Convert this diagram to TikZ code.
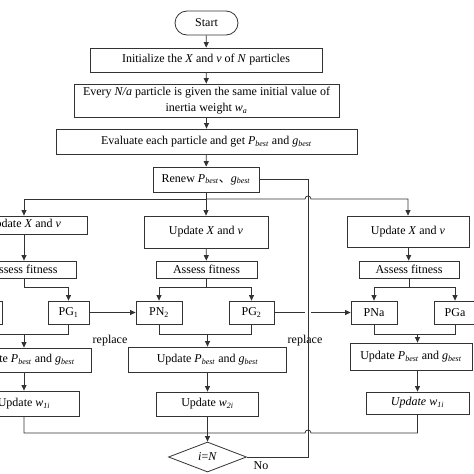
\documentclass[tikz,border=0pt]{standalone}
\usepackage{fontspec}
\setmainfont{Liberation Serif}
\newfontfamily\cjk{Noto Sans CJK SC}
\usetikzlibrary{shapes.geometric,arrows.meta}
\begin{document}
\begin{tikzpicture}[x=1pt,y=-1pt,
  every node/.style={font=\fontsize{12}{14}\selectfont},
  ln/.style={draw=black!80, line width=0.8pt},
  box/.style={ln, rectangle, inner sep=0pt},
  term/.style={ln, rectangle, rounded corners=12pt, inner sep=0pt},
  dec/.style={ln, diamond, inner sep=0pt, aspect=2.6},
  arr/.style={ln, -{Triangle[length=5.5pt,width=5pt]}},
  lbl/.style={inner sep=0pt}
]
\useasboundingbox (0,0) rectangle (474,474);
\clip (0,0) rectangle (474,474);

% top chain
\node[term, minimum width=63pt, minimum height=24pt] (start) at (206.5,23) {Start};
\node[box, minimum width=232pt, minimum height=24pt] (init) at (206,60) {Initialize the \textit{X} and \textit{v} of \textit{N} particles};
\node[box, minimum width=265pt, minimum height=33pt, align=center, font=\fontsize{12}{16}\selectfont] (every) at (206.5,100.5) {Every \textit{N/a} particle is given the same initial value of\\inertia weight \textit{w}\textsubscript{\textit{a}}};
\node[box, minimum width=301pt, minimum height=25pt] (eval) at (206.5,141.5) {Evaluate each particle and get \textit{P}\textsubscript{\textit{best}} and \textit{g}\textsubscript{\textit{best}}};
\node[box, minimum width=106pt, minimum height=25pt] (renew) at (206,179.5) {Renew \textit{P}\textsubscript{\textit{best}}{\cjk 、}\textit{g}\textsubscript{\textit{best}}};

% left column
\node[box, minimum width=126pt, minimum height=18pt] (upL) at (24,225) {Update \textit{X} and \textit{v}};
\node[box, minimum width=104pt, minimum height=17pt] (asL) at (24,269.5) {Assess fitness};
\node[box, minimum width=42pt, minimum height=23pt] (pn1) at (-19,312.5) {PN\textsubscript{1}};
\node[box, minimum width=41pt, minimum height=23pt] (pg1) at (68.5,312.5) {PG\textsubscript{1}};
\node[box, minimum width=134pt, minimum height=24pt] (ubL) at (24,360) {Update \textit{P}\textsubscript{\textit{best}} and \textit{g}\textsubscript{\textit{best}}};
\node[box, minimum width=110pt, minimum height=25pt] (uwL) at (24,403.5) {Update \textit{w}\textsubscript{\textit{1i}}};

% middle column
\node[box, minimum width=124pt, minimum height=32pt] (upM) at (206,232) {Update \textit{X} and \textit{v}};
\node[box, minimum width=101pt, minimum height=17pt] (asM) at (206.5,269.5) {Assess fitness};
\node[box, minimum width=46pt, minimum height=23pt] (pn2) at (159,312.5) {PN\textsubscript{2}};
\node[box, minimum width=45pt, minimum height=23pt] (pg2) at (251.5,312.5) {PG\textsubscript{2}};
\node[box, minimum width=158pt, minimum height=25pt] (ubM) at (207.5,359.5) {Update \textit{P}\textsubscript{\textit{best}} and \textit{g}\textsubscript{\textit{best}}};
\node[box, minimum width=102pt, minimum height=24pt] (uwM) at (207.5,404) {Update \textit{w}\textsubscript{\textit{2i}}};
\node[dec, minimum width=78pt, minimum height=30pt] (dia) at (207.5,457) {\textit{i}=\textit{N}};

% right column
\node[box, minimum width=122pt, minimum height=31pt] (upR) at (408,231.5) {Update \textit{X} and \textit{v}};
\node[box, minimum width=100pt, minimum height=17pt] (asR) at (409,269.5) {Assess fitness};
\node[box, minimum width=46pt, minimum height=23pt] (pna) at (374,312.5) {PNa};
\node[box, minimum width=42pt, minimum height=23pt] (pga) at (455,312.5) {PGa};
\node[box, minimum width=122pt, minimum height=27pt] (ubR) at (411,356.5) {Update \textit{P}\textsubscript{\textit{best}} and \textit{g}\textsubscript{\textit{best}}};
\node[box, minimum width=103pt, minimum height=22pt] (uwR) at (417.5,403) {\textit{Update w}\textsubscript{\textit{1i}}};

% labels
\node[lbl] (rep1) at (110,341) {replace};
\node[lbl] (rep2) at (305,341) {replace};
\node[lbl] (no) at (261,466) {No};

% junction coordinates
\coordinate (jT) at (206,199);
\coordinate (lpx) at (308,0);
\coordinate (jL) at (24,334);
\coordinate (jM) at (207.5,334);
\coordinate (jR) at (417.5,334);
\coordinate (jB) at (0,433);

% top chain arrows
\draw[arr] (start) -- (init);
\draw[arr] (init) -- (every);
\draw[arr] (every) -- (eval);
\draw[arr] (eval) -- (renew);
\draw[arr] (renew) -- (upM);
\draw[arr] (jT) -| (upL.north);
\draw[arr] (jT) -- (305,199) .. controls (305,195) and (311,195) .. (311,199) -| (upR.north);

% loop back (No)
\draw[ln] (dia.east) -- (dia.east -| lpx) -- (renew.east -| lpx) -- (renew.east);

% left column
\draw[arr] (upL) -- (asL);
\draw[arr] (asL.south) -- ++(0,9) -| (pg1.north);
\draw[ln] (pn1.south) -- ++(0,10) -| (pg1.south);
\draw[arr] (jL) -- (ubL.north);
\draw[arr] (ubL) -- (uwL);
\draw[arr] (pg1.east) -- (pn2.west);

% middle column
\draw[arr] (upM) -- (asM);
\draw[arr] (asM.south) -- ++(0,9) -| (pn2.north);
\draw[arr] (asM.south) -- ++(0,9) -| (pg2.north);
\draw[ln] (pn2.south) -- ++(0,10) -| (pg2.south);
\draw[arr] (jM) -- (ubM.north -| jM);
\draw[arr] (ubM) -- (uwM);
\draw[arr] (uwM) -- (dia);
\draw[ln] (pg2.east) -- (305,312.5);
\draw[arr] (311,312.5) -- (pna.west);

% right column
\draw[arr] (upR) -- (asR);
\draw[arr] (asR.south) -- ++(0,9) -| (pna.north);
\draw[arr] (asR.south) -- ++(0,9) -| (pga.north);
\draw[ln] (pna.south) -- ++(0,10) -| (pga.south);
\draw[arr] (jR) -- (ubR.north -| jR);
\draw[arr] (ubR.south -| uwR) -- (uwR.north);

% bottom collector
\draw[ln] (uwL.south) -- (uwL.south |- jB) -- (305,433) .. controls (305,429) and (311,429) .. (311,433) -- (uwR.south |- jB) -- (uwR.south);
\end{tikzpicture}
\end{document}
